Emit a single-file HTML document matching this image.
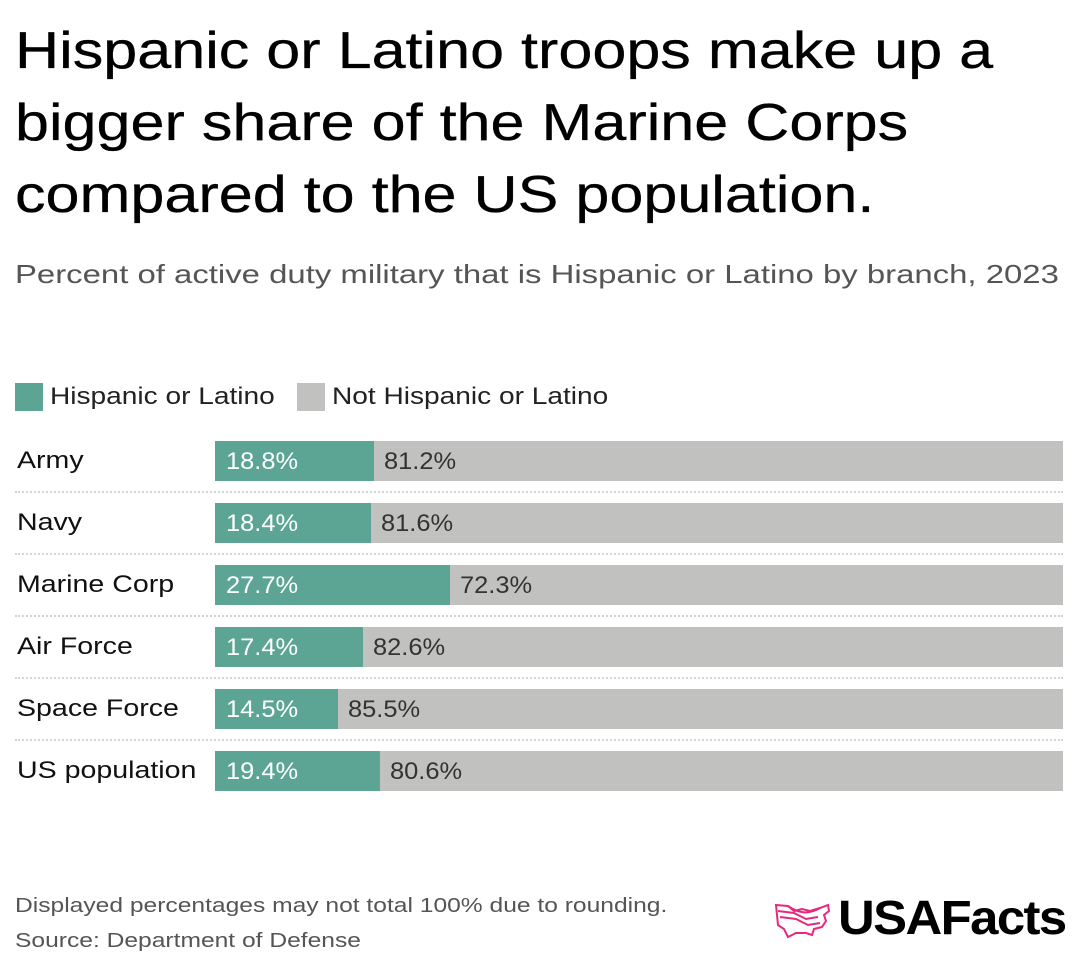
<!DOCTYPE html>
<html><head><meta charset="utf-8">
<style>
body{margin:0;width:1080px;height:974px;background:#fff;font-family:"Liberation Sans",sans-serif;position:relative;overflow:hidden}
.t{position:absolute;white-space:nowrap;transform-origin:0 0}
</style></head><body>
<div class="t" style="left:15px;top:15px;font-size:52px;line-height:72px;color:#000;transform:scaleX(1.175);-webkit-text-stroke:0.3px #000">Hispanic or Latino troops make up a<br>bigger share of the Marine Corps<br>compared to the US population.</div>
<div class="t" style="left:15px;top:259px;font-size:26px;color:#555;transform:scaleX(1.265)">Percent of active duty military that is Hispanic or Latino by branch, 2023</div>
<div>
<div class="t" style="left:15px;top:383px;width:28px;height:28px;background:#5ca594"></div>
<div class="t" style="left:50px;top:383px;font-size:24px;color:#222;transform:scaleX(1.17)">Hispanic or Latino</div>
<div class="t" style="left:297px;top:383px;width:28px;height:28px;background:#c1c1c0"></div>
<div class="t" style="left:332px;top:383px;font-size:24px;color:#222;transform:scaleX(1.17)">Not Hispanic or Latino</div>
</div>
<div id="chart"></div>
<div class="t" style="left:15px;top:895px;font-size:20px;color:#555;transform:scaleX(1.23)">Displayed percentages may not total 100% due to rounding.</div>
<div class="t" style="left:15px;top:930px;font-size:20px;color:#555;transform:scaleX(1.23)">Source: Department of Defense</div>
<div style="position:absolute;left:774px;top:897px">
<svg width="60" height="42" viewBox="0 0 60 42" style="position:absolute;left:0;top:2px"><g fill="none" stroke="#e8287f" stroke-width="2"><path d="M2 6 L14 7 L20 12 L28 10 L36 12 L46 9 L54 6 L55 12 L50 16 L52 22 L48 28 L40 30 L38 36 L32 34 L22 34 L14 38 L10 30 L4 26 Z"/><path d="M4 12 L20 14 L32 20 L44 18 M6 18 L22 20 L34 26 L46 24 M14 7 C24 14 34 16 46 9"/></g></svg>
<div class="t" style="left:64px;top:-6px;font-size:48px;font-weight:bold;color:#000;letter-spacing:-1.5px;transform:scaleX(1.06)">USAFacts</div>
</div>
<script>
const categories=["Army","Navy","Marine Corp","Air Force","Space Force","US population"];
const hispanic=[18.8,18.4,27.7,17.4,14.5,19.4];
const notHispanic=[81.2,81.6,72.3,82.6,85.5,80.6];
const chart=document.getElementById('chart');
const x0=215,W=848,top0=441,step=62,bh=40;
const xs=v=>W*v/100;
categories.forEach((c,i)=>{
 const y=top0+i*step;
 const l=document.createElement('div');l.className='t';
 
 
 l.style.cssText=`left:17px;top:${y+6}px;font-size:24px;color:#111;transform:scaleX(1.19)`;l.textContent=c;chart.appendChild(l);
 const hw=xs(hispanic[i]);
 const a=document.createElement('div');a.className='t';
 
 
 a.style.cssText=`left:${x0}px;top:${y}px;width:${hw}px;height:${bh}px;background:#5ca594`;chart.appendChild(a);
 const b=document.createElement('div');b.className='t';
 
 
 b.style.cssText=`left:${x0+hw}px;top:${y}px;width:${xs(notHispanic[i])}px;height:${bh}px;background:#c1c1c0`;chart.appendChild(b);
 const ta=document.createElement('div');ta.className='t';
 
 
 ta.style.cssText=`left:${x0+11}px;top:${y+7}px;font-size:24px;color:#fff;transform:scaleX(1.06)`;ta.textContent=hispanic[i].toFixed(1)+'%';chart.appendChild(ta);
 const tb=document.createElement('div');tb.className='t';
 
 
 tb.style.cssText=`left:${x0+hw+10}px;top:${y+7}px;font-size:24px;color:#333;transform:scaleX(1.06)`;tb.textContent=notHispanic[i].toFixed(1)+'%';chart.appendChild(tb);
 if(i<categories.length-1){const s=document.createElement('div');s.className='t';
 
 
 s.style.cssText=`left:15px;top:${y+bh+10}px;width:1048px;border-top:2px dotted #d4d4d4`;chart.appendChild(s);}
});
</script>
</body></html>
